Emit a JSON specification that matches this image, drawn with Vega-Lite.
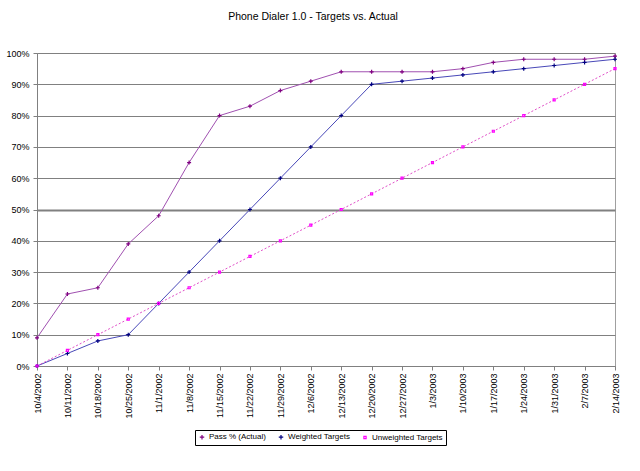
{
  "$schema": "https://vega.github.io/schema/vega-lite/v6.json",
  "autosize": {"type": "none"},
  "width": 578,
  "height": 313,
  "padding": {"left": 37, "top": 53, "right": 25, "bottom": 105},
  "background": "white",
  "title": {"text": "Phone Dialer 1.0 - Targets vs. Actual", "font": "Liberation Sans", "fontSize": 10.5, "fontWeight": "normal", "color": "black", "offset": 27, "dx": -13},
  "config": {
    "view": {"stroke": "#a0a0a0", "strokeWidth": 1},
    "font": "Liberation Sans"
  },
  "data": {"values": [
    {"date": "10/4/2002", "series": "Pass % (Actual)", "value": 0.09},
    {"date": "10/11/2002", "series": "Pass % (Actual)", "value": 0.23},
    {"date": "10/18/2002", "series": "Pass % (Actual)", "value": 0.25},
    {"date": "10/25/2002", "series": "Pass % (Actual)", "value": 0.39},
    {"date": "11/1/2002", "series": "Pass % (Actual)", "value": 0.48},
    {"date": "11/8/2002", "series": "Pass % (Actual)", "value": 0.65},
    {"date": "11/15/2002", "series": "Pass % (Actual)", "value": 0.80},
    {"date": "11/22/2002", "series": "Pass % (Actual)", "value": 0.83},
    {"date": "11/29/2002", "series": "Pass % (Actual)", "value": 0.88},
    {"date": "12/6/2002", "series": "Pass % (Actual)", "value": 0.91},
    {"date": "12/13/2002", "series": "Pass % (Actual)", "value": 0.94},
    {"date": "12/20/2002", "series": "Pass % (Actual)", "value": 0.94},
    {"date": "12/27/2002", "series": "Pass % (Actual)", "value": 0.94},
    {"date": "1/3/2003", "series": "Pass % (Actual)", "value": 0.94},
    {"date": "1/10/2003", "series": "Pass % (Actual)", "value": 0.95},
    {"date": "1/17/2003", "series": "Pass % (Actual)", "value": 0.97},
    {"date": "1/24/2003", "series": "Pass % (Actual)", "value": 0.98},
    {"date": "1/31/2003", "series": "Pass % (Actual)", "value": 0.98},
    {"date": "2/7/2003", "series": "Pass % (Actual)", "value": 0.98},
    {"date": "2/14/2003", "series": "Pass % (Actual)", "value": 0.99},
    {"date": "10/4/2002", "series": "Weighted Targets", "value": 0.0},
    {"date": "10/11/2002", "series": "Weighted Targets", "value": 0.04},
    {"date": "10/18/2002", "series": "Weighted Targets", "value": 0.08},
    {"date": "10/25/2002", "series": "Weighted Targets", "value": 0.10},
    {"date": "11/1/2002", "series": "Weighted Targets", "value": 0.20},
    {"date": "11/8/2002", "series": "Weighted Targets", "value": 0.30},
    {"date": "11/15/2002", "series": "Weighted Targets", "value": 0.40},
    {"date": "11/22/2002", "series": "Weighted Targets", "value": 0.50},
    {"date": "11/29/2002", "series": "Weighted Targets", "value": 0.60},
    {"date": "12/6/2002", "series": "Weighted Targets", "value": 0.70},
    {"date": "12/13/2002", "series": "Weighted Targets", "value": 0.80},
    {"date": "12/20/2002", "series": "Weighted Targets", "value": 0.90},
    {"date": "12/27/2002", "series": "Weighted Targets", "value": 0.91},
    {"date": "1/3/2003", "series": "Weighted Targets", "value": 0.92},
    {"date": "1/10/2003", "series": "Weighted Targets", "value": 0.93},
    {"date": "1/17/2003", "series": "Weighted Targets", "value": 0.94},
    {"date": "1/24/2003", "series": "Weighted Targets", "value": 0.95},
    {"date": "1/31/2003", "series": "Weighted Targets", "value": 0.96},
    {"date": "2/7/2003", "series": "Weighted Targets", "value": 0.97},
    {"date": "2/14/2003", "series": "Weighted Targets", "value": 0.98},
    {"date": "10/4/2002", "series": "Unweighted Targets", "value": 0.0},
    {"date": "10/11/2002", "series": "Unweighted Targets", "value": 0.05},
    {"date": "10/18/2002", "series": "Unweighted Targets", "value": 0.10},
    {"date": "10/25/2002", "series": "Unweighted Targets", "value": 0.15},
    {"date": "11/1/2002", "series": "Unweighted Targets", "value": 0.20},
    {"date": "11/8/2002", "series": "Unweighted Targets", "value": 0.25},
    {"date": "11/15/2002", "series": "Unweighted Targets", "value": 0.30},
    {"date": "11/22/2002", "series": "Unweighted Targets", "value": 0.35},
    {"date": "11/29/2002", "series": "Unweighted Targets", "value": 0.40},
    {"date": "12/6/2002", "series": "Unweighted Targets", "value": 0.45},
    {"date": "12/13/2002", "series": "Unweighted Targets", "value": 0.50},
    {"date": "12/20/2002", "series": "Unweighted Targets", "value": 0.55},
    {"date": "12/27/2002", "series": "Unweighted Targets", "value": 0.60},
    {"date": "1/3/2003", "series": "Unweighted Targets", "value": 0.65},
    {"date": "1/10/2003", "series": "Unweighted Targets", "value": 0.70},
    {"date": "1/17/2003", "series": "Unweighted Targets", "value": 0.75},
    {"date": "1/24/2003", "series": "Unweighted Targets", "value": 0.80},
    {"date": "1/31/2003", "series": "Unweighted Targets", "value": 0.85},
    {"date": "2/7/2003", "series": "Unweighted Targets", "value": 0.90},
    {"date": "2/14/2003", "series": "Unweighted Targets", "value": 0.95}
  ]},
  "encoding": {
    "x": {"field": "date", "type": "ordinal", "sort": null, "scale": {"type": "point", "padding": 0},
      "axis": {"title": null, "labelAngle": -90, "labelFontSize": 9, "labelColor": "black", "labelPadding": 3, "domainColor": "#808080", "tickColor": "#808080", "tickSize": 4, "grid": false, "labelOverlap": false}},
    "y": {"field": "value", "type": "quantitative", "scale": {"domain": [0, 1]},
      "axis": {"title": null, "format": "%", "values": [0, 0.1, 0.2, 0.3, 0.4, 0.5, 0.6, 0.7, 0.8, 0.9, 1], "labelFontSize": 9, "labelColor": "black", "labelPadding": 4, "domainColor": "#808080", "tickColor": "#808080", "tickSize": 4, "grid": true, "gridColor": "#808080", "gridOpacity": 1, "gridWidth": {"condition": {"test": "datum.value == 0.5", "value": 2}, "value": 1}}}
  },
  "layer": [
    {
      "transform": [{"filter": "datum.series == 'Pass % (Actual)'"}],
      "mark": {"type": "line", "strokeWidth": 1, "color": "#A050B0"},
      "encoding": {}
    },
    {
      "transform": [{"filter": "datum.series == 'Weighted Targets'"}],
      "mark": {"type": "line", "strokeWidth": 1, "color": "#4848B8"},
      "encoding": {}
    },
    {
      "transform": [{"filter": "datum.series == 'Unweighted Targets'"}],
      "mark": {"type": "line", "strokeWidth": 1, "color": "#E050C8", "strokeDash": [2, 2]},
      "encoding": {}
    },
    {
      "mark": {"type": "point", "filled": false, "size": 16, "strokeWidth": 1.2, "opacity": 1},
      "encoding": {
        "color": {"field": "series", "type": "nominal", "scale": {"domain": ["Pass % (Actual)", "Weighted Targets", "Unweighted Targets"], "range": ["#800080", "#000080", "#FF00FF"]},
          "legend": {"title": null, "orient": "none", "legendX": 158, "legendY": 377, "direction": "horizontal", "labelFontSize": 8, "labelColor": "black", "strokeColor": "black", "padding": 3, "columnPadding": 10, "symbolSize": 20, "symbolStrokeWidth": 1.2, "labelOffset": 3}},
        "shape": {"field": "series", "type": "nominal", "scale": {"domain": ["Pass % (Actual)", "Weighted Targets", "Unweighted Targets"], "range": ["M-1,0H1M0,-1V1", "M-1,0H1M0,-1V1", "M-0.5,-0.5H0.5V0.5H-0.5Z"]}}
      }
    }
  ]
}
